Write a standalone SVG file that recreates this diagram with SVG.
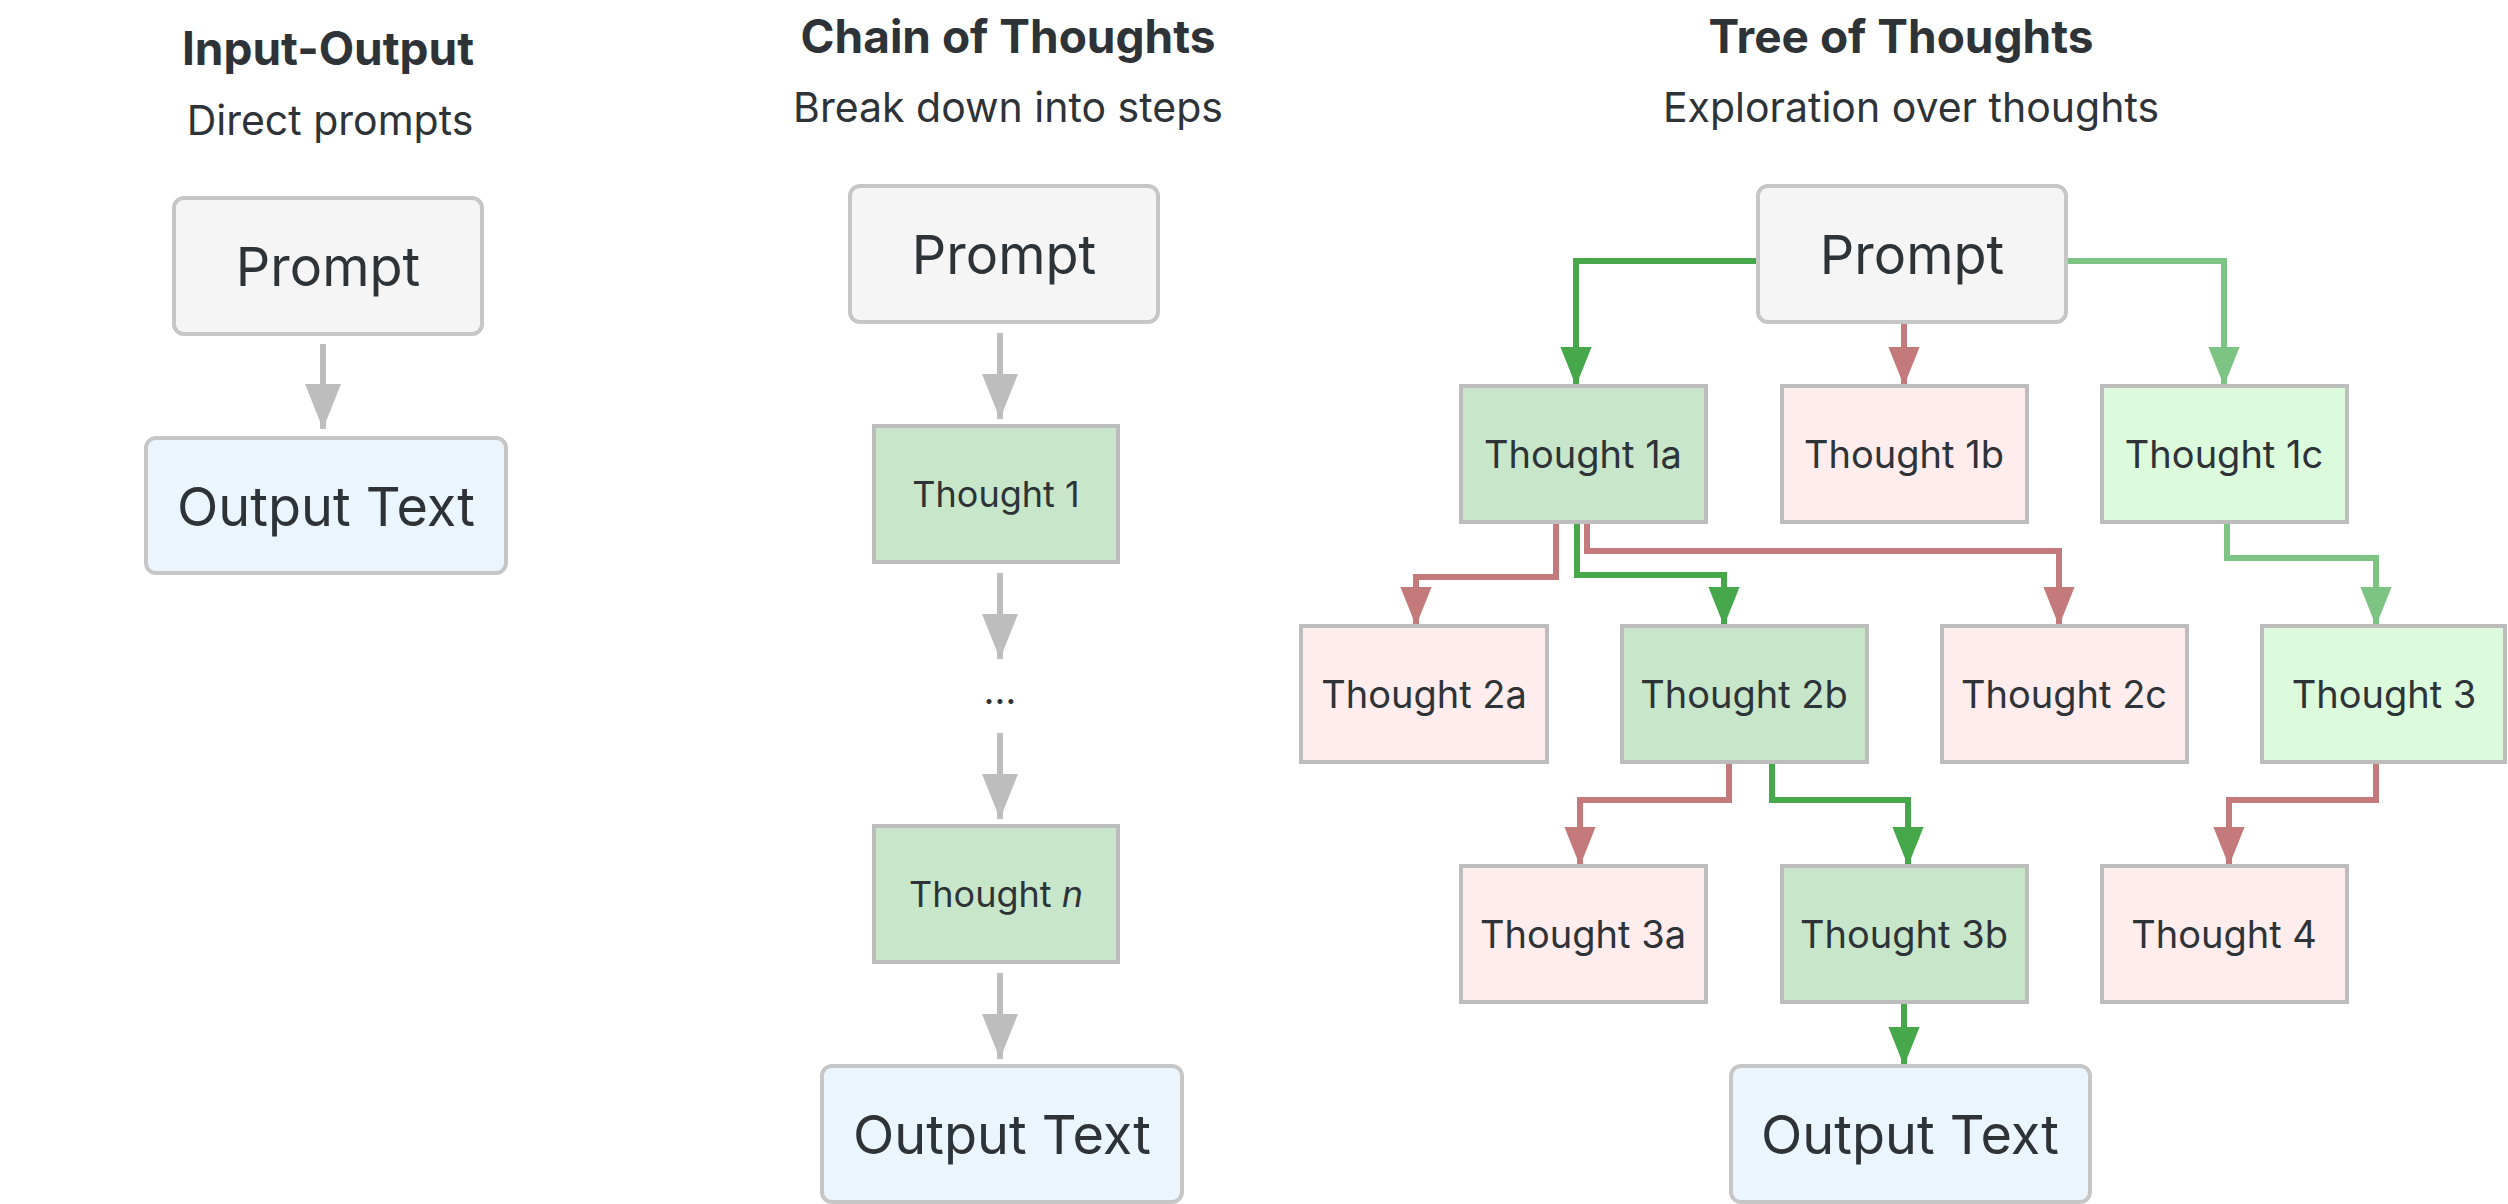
<svg xmlns="http://www.w3.org/2000/svg" width="2508" height="1204" viewBox="0 0 2508 1204">
<defs>
<style>
text{font-family:Inter,"Noto Sans","Liberation Sans",sans-serif;fill:#2e3338;text-anchor:middle;dominant-baseline:central}
.t{font-size:46px;font-weight:700}
.s{font-size:41px}
.big{font-size:54px}
.th{font-size:38px}
.ths{font-size:36px}
.p{fill:#f5f5f5;stroke:#c6c6c6;stroke-width:4}
.o{fill:#ebf5fe;stroke:#c6c6c6;stroke-width:4}
.g{fill:#c8e6ca;stroke:#bdbdbd;stroke-width:4}
.lg{fill:#dcfadc;stroke:#bdbdbd;stroke-width:4}
.r{fill:#ffecec;stroke:#bdbdbd;stroke-width:4}
.c{fill:none;stroke-width:6}
.gray{stroke:#bdbdbd}.dg{stroke:#46a84b}.lgc{stroke:#7dc383}.red{stroke:#c47a7a}
</style>
<marker id="ag" viewBox="0 0 10 8" refX="10" refY="4" markerWidth="7.5" markerHeight="6" orient="auto" markerUnits="strokeWidth"><path d="M0,0L10,4L0,8z" fill="#bdbdbd"/></marker>
<marker id="adg" viewBox="0 0 10 8" refX="10" refY="4" markerWidth="6.5" markerHeight="7.5" orient="auto" markerUnits="strokeWidth"><path d="M0,0L10,4L0,8z" fill="#46a84b"/></marker>
<marker id="alg" viewBox="0 0 10 8" refX="10" refY="4" markerWidth="6.5" markerHeight="7.5" orient="auto" markerUnits="strokeWidth"><path d="M0,0L10,4L0,8z" fill="#7dc383"/></marker>
<marker id="ar" viewBox="0 0 10 8" refX="10" refY="4" markerWidth="6.5" markerHeight="7.5" orient="auto" markerUnits="strokeWidth"><path d="M0,0L10,4L0,8z" fill="#c47a7a"/></marker>
</defs>
<rect width="2508" height="1204" fill="#fff"/>
<text class="t" x="328" y="48">Input-Output</text>
<text class="s" x="330" y="120">Direct prompts</text>
<text class="t" x="1008" y="36">Chain of Thoughts</text>
<text class="s" x="1008" y="107">Break down into steps</text>
<text class="t" x="1901" y="36">Tree of Thoughts</text>
<text class="s" x="1911" y="107">Exploration over thoughts</text>

<g id="connectors">
<path class="c gray" d="M323,344V429" marker-end="url(#ag)"/>
<path class="c gray" d="M1000,333V419" marker-end="url(#ag)"/>
<path class="c gray" d="M1000,573V659" marker-end="url(#ag)"/>
<path class="c gray" d="M1000,733V819" marker-end="url(#ag)"/>
<path class="c gray" d="M1000,973V1059" marker-end="url(#ag)"/>
<path class="c dg" d="M1758,261H1576V386" marker-end="url(#adg)"/>
<path class="c red" d="M1904,322V386" marker-end="url(#ar)"/>
<path class="c lgc" d="M2066,261H2224V386" marker-end="url(#alg)"/>
<path class="c red" d="M1556,522V577H1416V626" marker-end="url(#ar)"/>
<path class="c red" d="M1587,522V551H2059V626" marker-end="url(#ar)"/>
<path class="c dg" d="M1577,522V575H1724V626" marker-end="url(#adg)"/>
<path class="c lgc" d="M2227,522V558H2376V626" marker-end="url(#alg)"/>
<path class="c red" d="M1729,762V800H1580V866" marker-end="url(#ar)"/>
<path class="c dg" d="M1772,762V800H1908V866" marker-end="url(#adg)"/>
<path class="c red" d="M2376,762V800H2229V866" marker-end="url(#ar)"/>
<path class="c dg" d="M1904,1002V1066" marker-end="url(#adg)"/>
</g>

<g id="io-prompt"><rect class="p" x="174" y="198" width="308" height="136" rx="10"/><text class="big" x="328" y="266">Prompt</text></g>
<g id="io-output"><rect class="o" x="146" y="438" width="360" height="135" rx="10"/><text class="big" x="326" y="506">Output Text</text></g>

<g id="cot-prompt"><rect class="p" x="850" y="186" width="308" height="136" rx="10"/><text class="big" x="1004" y="254">Prompt</text></g>
<g id="cot-t1"><rect class="g" x="874" y="426" width="244" height="136"/><text class="ths" x="996" y="494">Thought 1</text></g>
<g id="cot-dots"><text class="th" x="1000" y="690">…</text></g>
<g id="cot-tn"><rect class="g" x="874" y="826" width="244" height="136"/><text class="ths" x="996" y="894">Thought <tspan font-style="italic">n</tspan></text></g>
<g id="cot-output"><rect class="o" x="822" y="1066" width="360" height="136" rx="10"/><text class="big" x="1002" y="1134">Output Text</text></g>

<g id="tot-prompt"><rect class="p" x="1758" y="186" width="308" height="136" rx="10"/><text class="big" x="1912" y="254">Prompt</text></g>
<g id="t1a"><rect class="g" x="1461" y="386" width="245" height="136"/><text class="th" x="1583" y="454">Thought 1a</text></g>
<g id="t1b"><rect class="r" x="1782" y="386" width="245" height="136"/><text class="th" x="1904" y="454">Thought 1b</text></g>
<g id="t1c"><rect class="lg" x="2102" y="386" width="245" height="136"/><text class="th" x="2224" y="454">Thought 1c</text></g>
<g id="t2a"><rect class="r" x="1301" y="626" width="246" height="136"/><text class="th" x="1424" y="694">Thought 2a</text></g>
<g id="t2b"><rect class="g" x="1622" y="626" width="245" height="136"/><text class="th" x="1744" y="694">Thought 2b</text></g>
<g id="t2c"><rect class="r" x="1942" y="626" width="245" height="136"/><text class="th" x="2064" y="694">Thought 2c</text></g>
<g id="t3"><rect class="lg" x="2262" y="626" width="243" height="136"/><text class="th" x="2384" y="694">Thought 3</text></g>
<g id="t3a"><rect class="r" x="1461" y="866" width="245" height="136"/><text class="th" x="1583" y="934">Thought 3a</text></g>
<g id="t3b"><rect class="g" x="1782" y="866" width="245" height="136"/><text class="th" x="1904" y="934">Thought 3b</text></g>
<g id="t4"><rect class="r" x="2102" y="866" width="245" height="136"/><text class="th" x="2224" y="934">Thought 4</text></g>
<g id="tot-output"><rect class="o" x="1731" y="1066" width="359" height="136" rx="10"/><text class="big" x="1910" y="1134">Output Text</text></g>
</svg>
